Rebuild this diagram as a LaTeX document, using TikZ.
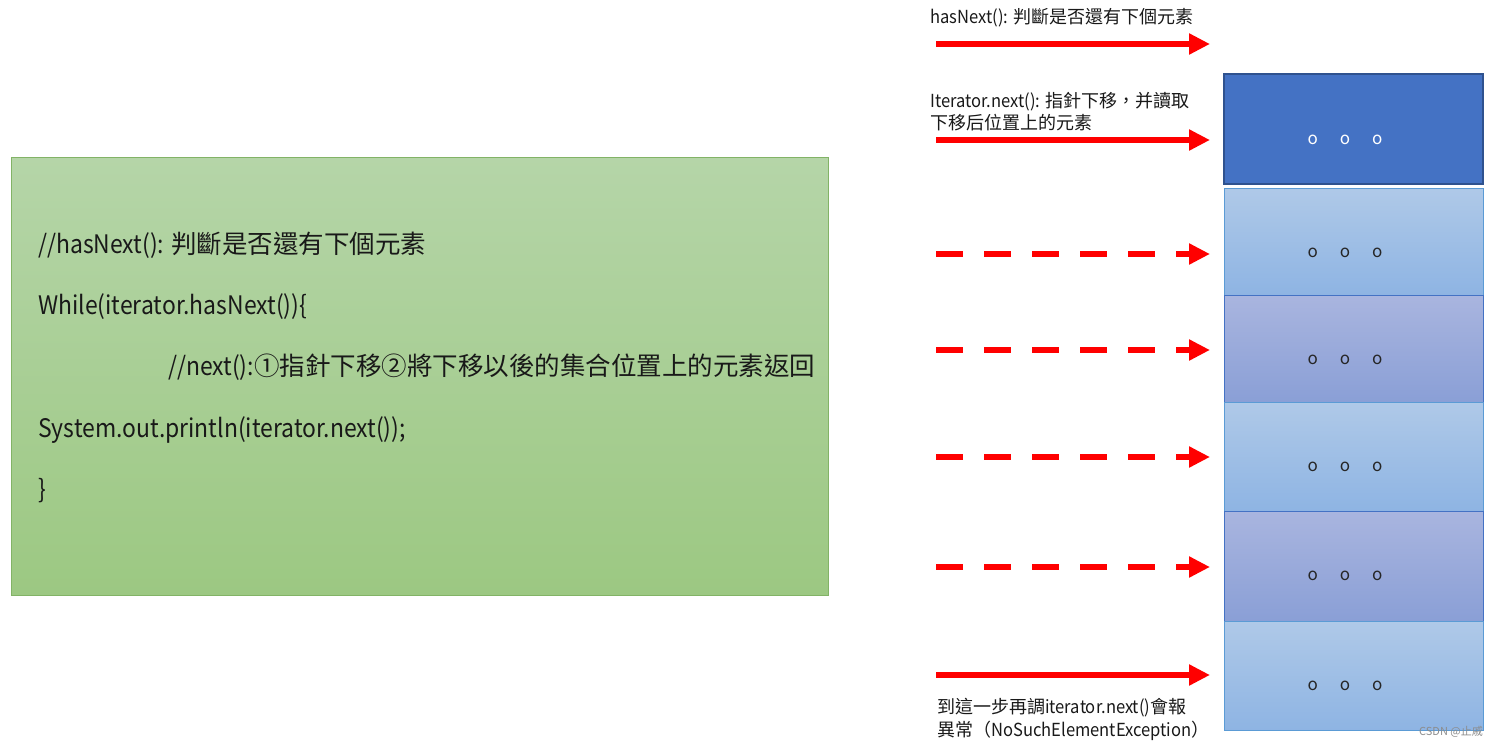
\documentclass[tikz,border=0pt]{standalone}
\usepackage{fontspec}
\setmainfont{Noto Sans CJK TC}
\newfontfamily\latc{Noto Sans CJK TC}[FakeStretch=0.90]
\newfontfamily\latl{Noto Sans CJK TC}[FakeStretch=0.92]
\usetikzlibrary{arrows.meta}
\definecolor{greentop}{HTML}{B5D5A8}
\definecolor{greenbot}{HTML}{9CC882}
\definecolor{greenline}{HTML}{82B366}
\definecolor{darkblue}{HTML}{4472C4}
\definecolor{darkblueline}{HTML}{2F528F}
\definecolor{ltop}{HTML}{AFC9E8}
\definecolor{lbot}{HTML}{8EB4E3}
\definecolor{lline}{HTML}{5B9BD5}
\definecolor{vtop}{HTML}{A9B5DF}
\definecolor{vbot}{HTML}{8A9FD6}
\definecolor{vline}{HTML}{4472C4}
\tikzset{
  codetext/.style={anchor=base west, inner sep=0pt, font=\fontsize{25.5}{30}\selectfont, text=black!90},
  labeltext/.style={anchor=base west, inner sep=0pt, font=\fontsize{18}{22}\selectfont, text=black!90},
  redarrow/.style={draw=red, line width=6pt, -{Triangle[length=21pt,width=20pt]}},
  reddash/.style={redarrow, dash pattern=on 27pt off 21pt},
  bluebox/.style={draw=lline, line width=1pt, top color=ltop, bottom color=lbot},
  violetbox/.style={draw=vline, line width=1pt, top color=vtop, bottom color=vbot},
  dots/.style={inner sep=0pt, font=\fontsize{17}{18}\selectfont}
}
\newcommand{\threedots}{o\hspace{22pt}o\hspace{22pt}o}
\begin{document}
\begin{tikzpicture}[x=1pt,y=-1pt]
\useasboundingbox (0,0) rectangle (1500,747);
% left code box
\draw[draw=greenline, line width=1pt, top color=greentop, bottom color=greenbot] (11,157) rectangle (828,595);
\node[codetext] (c1) at (38,253) {{\latc //hasNext(): }判斷是否還有下個元素};
\node[codetext] (c2) at (38,314) {{\latc While(iterator.hasNext())\{}};
\node[codetext] (c3) at (168,375) {{\latc //next():}①指針下移②將下移以後的集合位置上的元素返回};
\node[codetext] (c4) at (38,437) {{\latc System.out.println(iterator.next());}};
\node[codetext] (c5) at (38,498) {{\latc \}}};
% right boxes
\draw[draw=darkblueline, line width=2pt, fill=darkblue] (1224,74) rectangle (1483,184);
\draw[bluebox] (1224,188) rectangle (1483,295);
\draw[violetbox] (1224,295) rectangle (1483,402);
\draw[bluebox] (1224,402) rectangle (1483,511);
\draw[violetbox] (1224,511) rectangle (1483,621);
\draw[bluebox] (1224,621) rectangle (1483,730);
\node[dots, text=white] (d1) at (1345,140) {\threedots};
\node[dots, text=black!85] (d2) at (1345,253) {\threedots};
\node[dots, text=black!85] (d3) at (1345,360) {\threedots};
\node[dots, text=black!85] (d4) at (1345,467) {\threedots};
\node[dots, text=black!85] (d5) at (1345,576) {\threedots};
\node[dots, text=black!85] (d6) at (1345,686) {\threedots};
% labels
\node[labeltext] (l1) at (930,23) {{\latl hasNext(): }判斷是否還有下個元素};
\node[labeltext] (l2a) at (930,107) {{\latl Iterator.next(): }指針下移，并讀取};
\node[labeltext] (l2b) at (930,129) {下移后位置上的元素};
\node[labeltext] (l3a) at (937,713) {到這一步再調{\latl iterator.next()}會報};
\node[labeltext] (l3b) at (937,736) {異常（{\latl NoSuchElementException}）};
% arrows
\foreach \i/\y in {1/44,2/140,3/254,4/350,5/457,6/567,7/675}{
  \coordinate (s\i) at (936,\y);
  \coordinate (e\i) at (1210,\y);
}
\draw[redarrow] (s1) -- (e1);
\draw[redarrow] (s2) -- (e2);
\draw[reddash] (s3) -- (e3);
\draw[reddash] (s4) -- (e4);
\draw[reddash] (s5) -- (e5);
\draw[reddash] (s6) -- (e6);
\draw[redarrow] (s7) -- (e7);
% watermark
\node[anchor=base east, inner sep=0pt, font=\fontsize{11}{12}\selectfont, text=black!45] (wm) at (1483,735) {CSDN @止戚};
\end{tikzpicture}
\end{document}
